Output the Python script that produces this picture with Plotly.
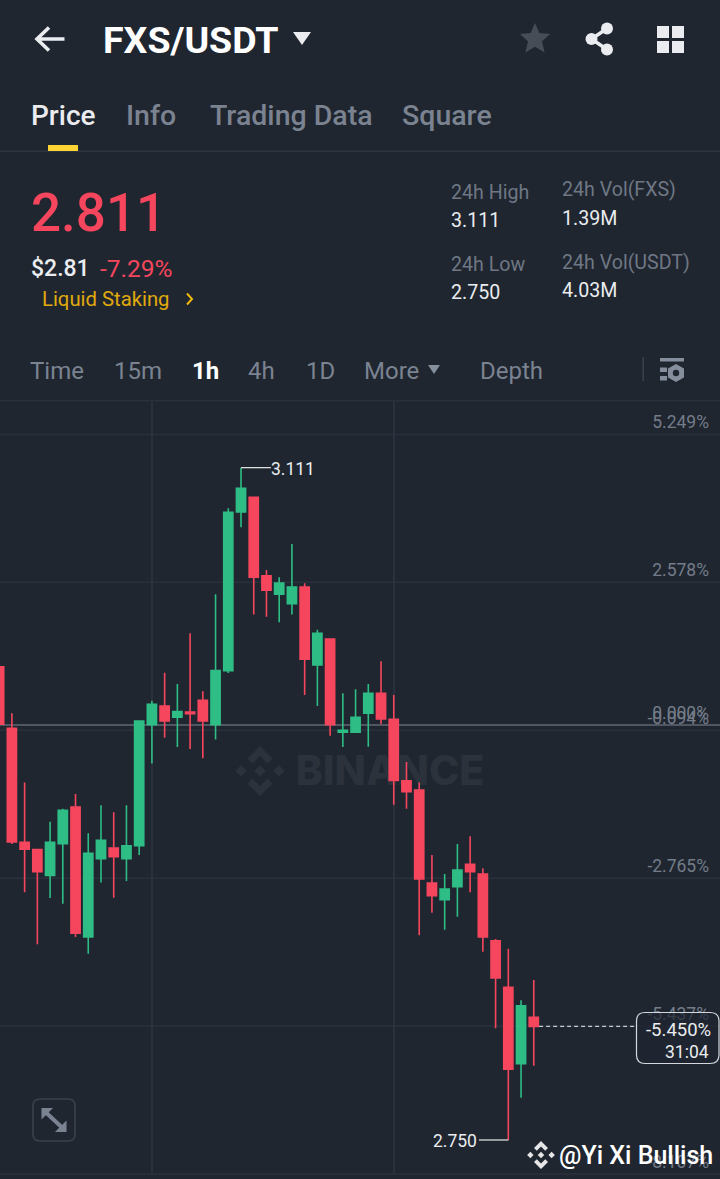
import plotly.graph_objects as go

# ---------- data ----------
opens = [3.0041,2.9711,2.9099,2.9059,2.8921,2.9091,2.9288,2.8590,2.9010,2.9068,2.9010,2.9080,2.9730,2.9830,2.9770,
         2.9798,2.9861,2.9730,3.0020,3.0872,3.0951,3.0530,3.0430,3.0380,3.0469,3.0051,3.0190,2.9689,2.9689,2.9791,
         2.9899,2.9759,2.9429,2.9379,2.8880,2.8790,2.8860,2.8980,2.8928,2.8569,2.8320,2.7910,2.8159]
closes = [2.9732,2.9100,2.9061,2.8941,2.9099,2.9270,2.8610,2.9039,2.9109,2.9021,2.9079,2.9750,2.9840,2.9750,2.9800,
          2.9789,2.9750,3.0020,3.0871,3.0999,3.0522,3.0452,3.0491,3.0469,3.0081,3.0221,2.9730,2.9700,2.9770,2.9899,
          2.9761,2.9431,2.9370,2.8901,2.8812,2.8848,2.8950,2.8941,2.8590,2.8370,2.7880,2.8220,2.8110]
highs = [3.0061,2.9791,2.9419,2.9059,2.9209,2.9279,2.9358,2.9147,2.9297,2.9260,2.9297,2.9750,2.9859,3.0009,2.9949,
         3.0221,2.9909,3.0430,3.0892,3.1110,3.0951,3.0561,3.0522,3.0700,3.0489,3.0240,3.0190,2.9899,2.9920,2.9949,
         3.0070,2.9890,2.9530,2.9419,2.9030,2.8928,2.9089,2.9131,2.8959,2.8579,2.8527,2.8250,2.8359]
lows = [2.9605,2.9089,2.8830,2.8551,2.8799,2.8769,2.8590,2.8500,2.8882,2.8801,2.8891,2.9030,2.9521,2.9660,2.9610,
        2.9600,2.9550,2.9650,3.0008,3.0790,3.0321,3.0310,3.0280,3.0321,2.9890,2.9830,2.9671,2.9610,2.9685,2.9612,
        2.9732,2.9300,2.9279,2.8599,2.8720,2.8629,2.8699,2.8830,2.8511,2.8100,2.7500,2.7727,2.7899]
candle_index = list(range(len(opens)))

base_price = 2.9728
last_price = 2.811
high_price = 3.111
low_price = 2.750
high_index = 19
low_index = 40
last_index = 42
tick_pcts = [5.249, 2.578, 0.0, -0.094, -2.765, -5.437, -8.107]
tick_labels = ["5.249%", "2.578%", "0.000%", "-0.094%", "-2.765%", "-5.437%", "-8.107%"]
vgrid_index = [12, 31]

# ---------- style ----------
BG = "#1f2630"
UP = "#2ebd85"
DOWN = "#f6465d"
WHITE = "#eaecef"
GREY = "#848e9c"
GRID = "#2b313c"
FONT = "Roboto"

tick_prices = [base_price * (1 + p / 100) for p in tick_pcts]

fig = go.Figure()

# page-pixel overlay axes (first subplot, so it lies beneath the candles)
fig.add_trace(go.Scatter(x=[390], y=[775], text=["BINANCE"], mode="text", xaxis="x", yaxis="y",
                         textfont=dict(family="Inter", size=41, color="#2b323c", weight=800),
                         hoverinfo="skip", showlegend=False))

fig.add_trace(go.Candlestick(
    x=candle_index, open=opens, high=highs, low=lows, close=closes, xaxis="x2", yaxis="y2",
    increasing=dict(line=dict(color=UP, width=1.6), fillcolor=UP),
    decreasing=dict(line=dict(color=DOWN, width=1.6), fillcolor=DOWN),
    whiskerwidth=0, showlegend=False))

shapes = []


def poly(points, fill, layer="above"):
    d = "M " + " L ".join(f"{a:.2f},{b:.2f}" for a, b in points) + " Z"
    shapes.append(dict(type="path", path=d, xref="x", yref="y", fillcolor=fill,
                       line=dict(width=0), layer=layer))


def stroke(d, color, width=2.0, layer="above", fill="rgba(0,0,0,0)"):
    shapes.append(dict(type="path", path=d, xref="x", yref="y", fillcolor=fill,
                       line=dict(color=color, width=width), layer=layer))


def rect(x0, y0, x1, y1, fill, layer="above"):
    shapes.append(dict(type="rect", x0=x0, y0=y0, x1=x1, y1=y1, xref="x", yref="y",
                       fillcolor=fill, line=dict(width=0), layer=layer))


def circle(cx, cy, r, fill):
    shapes.append(dict(type="circle", x0=cx - r, x1=cx + r, y0=cy - r, y1=cy + r, xref="x", yref="y",
                       fillcolor=fill, line=dict(width=0), layer="above"))


def logo(cx, cy, r, color, layer):
    top = [(0, -1), (.5, -.5), (.3, -.3), (0, -.6), (-.3, -.3), (-.5, -.5)]
    poly([(cx + a * r, cy + b * r) for a, b in top], color, layer)
    poly([(cx + a * r, cy - b * r) for a, b in top], color, layer)
    for off in (-.76, 0, .76):
        poly([(cx + (off + a) * r, cy + b * r) for a, b in [(0, -.23), (.23, 0), (0, .23), (-.23, 0)]], color, layer)


# separators and tab marker
rect(0, 150.5, 720, 152, "#2f3641")
rect(48, 145, 78, 151, "#fcd535")
rect(0, 400, 720, 401.5, "#2a303a")

# header icons
stroke("M 64.5,39 L 37,39 M 49,27.5 L 37,39 L 49,50.5", WHITE, 3.6)
poly([(293, 32), (311, 32), (302, 45)], WHITE)
poly([(535, 23), (539.4, 33), (550, 34), (542, 41.4), (544.6, 52.5), (535, 46.8), (525.4, 52.5), (528, 41.4), (520, 34),
      (530.6, 33)], "#474d57")
circle(607, 28.5, 6, WHITE)
circle(591.5, 39, 6, WHITE)
circle(607, 49.5, 6, WHITE)
stroke("M 607,28.5 L 591.5,39 L 607,49.5", WHITE, 3.5)
for gx in (657, 672):
    for gy in (26, 41):
        rect(gx, gy, gx + 12, gy + 12, WHITE)
stroke("M 187,293.5 L 192,299 L 187,304.5", "#f0b90b", 2)
poly([(428, 365), (440, 365), (434, 374)], GREY)
rect(642.5, 357, 644, 381, "#3a414c")
rect(660, 358, 684, 361.5, GREY)
rect(660, 367.5, 667, 372, GREY)
rect(660, 376, 667, 380.5, GREY)
poly([(676, 364), (684, 368.5), (684, 377.5), (676, 382), (668, 377.5), (668, 368.5)], GREY)
circle(676, 373, 3.2, BG)

# watermark logo, under the candles
logo(260, 771, 25, "#2b323c", "below")

# expand button
stroke("M 40,1099 L 68,1099 Q 75,1099 75,1106 L 75,1134 Q 75,1141 68,1141 L 40,1141 Q 33,1141 33,1134 L 33,1106 "
       "Q 33,1099 40,1099 Z", "#3a414c", 1.6)
poly([(41.5, 1108), (53, 1108), (41.5, 1119.5)], "#7a8391")
poly([(66.5, 1132), (55, 1132), (66.5, 1120.5)], "#7a8391")
stroke("M 46,1112.5 L 62,1127.5", "#7a8391", 4)

# horizontal grid at the tick prices, then the brighter zero line, all under the candles
for price in tick_prices:
    shapes.append(dict(type="line", xref="x2 domain", yref="y2", x0=0, x1=1, y0=price, y1=price,
                       line=dict(color=GRID, width=1.5), layer="below"))
shapes.append(dict(type="line", xref="x2 domain", yref="y2", x0=0, x1=1, y0=base_price, y1=base_price,
                   line=dict(color="#5f6671", width=1.6), layer="below"))

# high/low leaders and last-price line, placed by the price scale
shapes.append(dict(type="line", xref="x2", yref="y2", x0=high_index, x1=high_index + 2.35,
                   y0=high_price, y1=high_price, line=dict(color=WHITE, width=1.2)))
shapes.append(dict(type="line", xref="x2", yref="y2", x0=low_index - 2.3, x1=low_index,
                   y0=low_price, y1=low_price, line=dict(color=WHITE, width=1.2)))
shapes.append(dict(type="line", xref="x2", yref="y2", x0=last_index + 0.42, x1=49.95,
                   y0=last_price, y1=last_price, line=dict(color="#c9ccd1", width=1.1, dash="4px,3px")))

# last-price tag
stroke("M 645,1012.5 L 710,1012.5 Q 719,1012.5 719,1021 L 719,1055 Q 719,1063.5 710,1063.5 L 645,1063.5 "
       "Q 636.5,1063.5 636.5,1055 L 636.5,1021 Q 636.5,1012.5 645,1012.5 Z", "#d5d8dc", 1.2,
       fill="rgba(31,38,48,0.72)")

# foreground signature logo
logo(541, 1155, 14, "#e6e6e6", "above")

annotations = []


def txt(s, x, y, size, color, anchor="left", weight=400, family=FONT):
    annotations.append(dict(text=s, x=x, y=y, xref="x", yref="y", xanchor=anchor, yanchor="middle", showarrow=False,
                            xshift=-2 if anchor == "left" else 2,
                            font=dict(family=family, size=size, color=color, weight=weight)))


txt("FXS/USDT", 103, 40, 37.5, "#ffffff", weight=700)
txt("Price", 31, 115, 28, WHITE, weight=500)
txt("Info", 126, 115, 28.5, "#7b8391", weight=500)
txt("Trading Data", 210, 115, 28.5, "#7b8391", weight=500)
txt("Square", 402, 115, 28.5, "#7b8391", weight=500)
txt("2.811", 31, 213, 53, DOWN, weight=500)
txt("$2.81", 31, 268, 23, WHITE, weight=500)
txt("-7.29%", 100, 268, 24.5, DOWN)
txt("Liquid Staking", 42, 299, 20.3, "#e0a90c")
for s, x, y, c in [("24h High", 451, 192, "#6f7784"), ("3.111", 451, 220, WHITE),
                   ("24h Vol(FXS)", 562, 189, "#6f7784"), ("1.39M", 562, 218, WHITE),
                   ("24h Low", 451, 264, "#6f7784"), ("2.750", 451, 292, WHITE),
                   ("24h Vol(USDT)", 562, 262, "#6f7784"), ("4.03M", 562, 290, WHITE)]:
    txt(s, x, y, 19.6, c)
for s, x, c, w in [("Time", 30, "#7b8391", 400), ("15m", 114, "#7b8391", 400), ("1h", 192, "#ffffff", 700),
                   ("4h", 248, "#7b8391", 400), ("1D", 306, "#7b8391", 400), ("More", 364, "#7b8391", 400),
                   ("Depth", 480, "#7b8391", 400)]:
    txt(s, x, 371, 24, c, weight=w)
txt("-5.450%", 711, 1030, 18.5, WHITE, "right")
txt("31:04", 709, 1052, 17.5, WHITE, "right")
txt("@Yi Xi Bullish", 559, 1155, 25, "#ffffff", weight=500)

annotations.append(dict(text=f"{high_price:.3f}", x=high_index + 2.35, y=high_price, xref="x2", yref="y2",
                        xanchor="left", yanchor="middle", showarrow=False, xshift=-2, yshift=-1,
                        font=dict(family=FONT, size=17.5, color=WHITE)))
annotations.append(dict(text=f"{low_price:.3f}", x=low_index - 2.3, y=low_price, xref="x2", yref="y2",
                        xanchor="right", yanchor="middle", showarrow=False, yshift=-1,
                        font=dict(family=FONT, size=17.5, color=WHITE)))

fig.update_layout(
    width=720, height=1179, margin=dict(l=0, r=0, t=0, b=0, pad=0),
    paper_bgcolor=BG, plot_bgcolor="rgba(0,0,0,0)", showlegend=False, boxgap=0.28, boxgroupgap=0,
    shapes=shapes, annotations=annotations,
    xaxis=dict(domain=[0, 1], range=[0, 720], visible=False, fixedrange=True, anchor="y"),
    yaxis=dict(domain=[0, 1], range=[1179, 0], visible=False, fixedrange=True, anchor="x"),
    xaxis2=dict(domain=[0, 1], range=[0.066, 56.63], anchor="y2", rangeslider=dict(visible=False),
                tickmode="array", tickvals=vgrid_index, showticklabels=False, ticks="",
                showgrid=True, gridcolor=GRID, gridwidth=1.5, zeroline=False, showline=False, fixedrange=True),
    yaxis2=dict(domain=[4 / 1179, 778 / 1179], range=[2.7312, 3.1468], anchor="x2", side="right",
                tickmode="array", tickvals=tick_prices, ticktext=tick_labels,
                ticklabelposition="inside top", ticklabelstandoff=8, ticks="",
                tickfont=dict(family=FONT, size=17.5, color="#747c89"),
                showgrid=False, zeroline=False, showline=False, fixedrange=True),
)

fig.write_html("out.html", config=dict(displayModeBar=False),
               post_script="document.body.style.margin='0';document.body.style.overflow='hidden';")
